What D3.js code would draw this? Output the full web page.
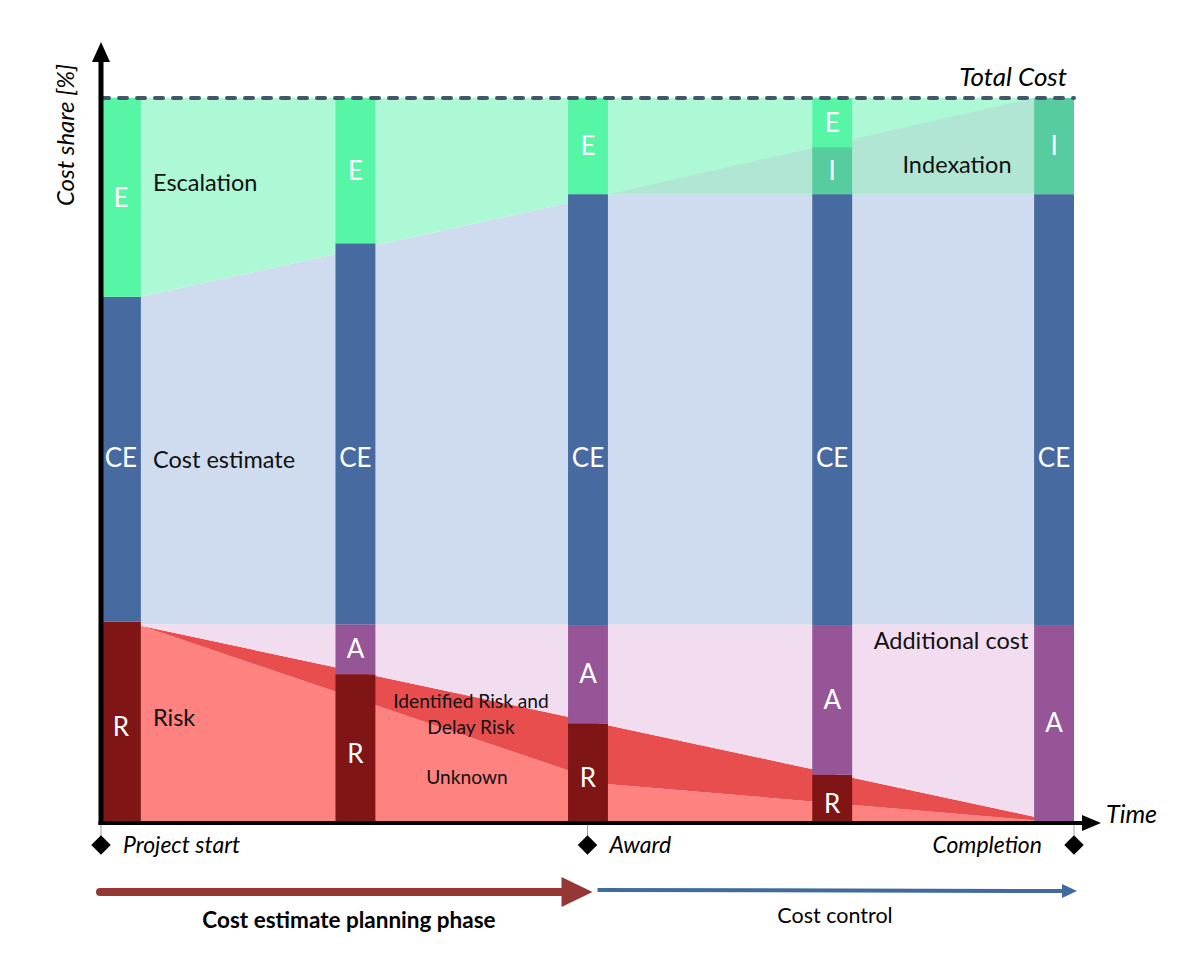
<!DOCTYPE html>
<html>
<head>
<meta charset="utf-8">
<script src="https://cdn.jsdelivr.net/npm/d3@7"></script>
<style>
  body { margin: 0; background: #fff; }
  text { font-family: Lato, "Open Sans", sans-serif; }
</style>
</head>
<body>
<div id="canvas"></div>
<script>
// columns: left edge in % of project time
const columnStart = [0, 24.1, 48, 73.1, 95.9];
const columnWidth = 4.1;

// cost shares per column [%]
const riskShare       = [27.6, 20.3, 13.5, 6.4, 0];
const additionalShare = [0, 6.9, 13.6, 20.7, 27.1];
const estimateShare   = [44.9, 52.7, 59.6, 59.6, 59.6];
const indexationShare = [0, 0, 0, 6.5, 13.3];
const escalationShare = [27.5, 20.1, 13.3, 6.8, 0];

// background trend bands between the columns
const bandTime        = [4.1, 52.2, 95.9];
const unknownTop      = [27.0, 5.1, 0.1];
const identifiedTop   = [27.0, 13.2, 0.6];
const estimateBottom  = [27.2, 27.2, 27.2];
const escalationFloor = [72.5, 86.7, 86.7];
const indexationTop   = [72.5, 86.7, 100];

const milestones    = ["Project start", "Award", "Completion"];
const milestoneTime = [0, 50, 100];

const keys = ["R", "A", "CE", "I", "E"];
const barColor = { R: "#7f1514", A: "#955597", CE: "#476aa0", I: "#56cc9f", E: "#57f6a6" };

const width = 1200, height = 972;

const svg = d3.select("#canvas").append("svg")
  .attr("width", width)
  .attr("height", height);

const x = d3.scaleLinear().domain([0, 100]).range([101, 1074]);
const y = d3.scaleLinear().domain([0, 100]).range([821, 98]);

// ---- background bands
const bandRows = bandTime.map((t, i) => ({
  t,
  unk: unknownTop[i], idr: identifiedTop[i], ceb: estimateBottom[i],
  esc: escalationFloor[i], idx: indexationTop[i]
}));

const bands = [
  { lo: d => 0,     hi: d => d.unk, fill: "#fe8380" },
  { lo: d => d.unk, hi: d => d.idr, fill: "#e94e4f" },
  { lo: d => d.idr, hi: d => d.ceb, fill: "#f1dcf0" },
  { lo: d => d.ceb, hi: d => d.esc, fill: "#cfdbee" },
  { lo: d => d.esc, hi: d => 100,   fill: "#adf8d5" },
  { lo: d => d.esc, hi: d => d.idx, fill: "#b0e6d3" }
];

const gBands = svg.append("g");
bands.forEach(b => {
  const area = d3.area()
    .x(d => x(d.t))
    .y0(d => y(b.lo(d)))
    .y1(d => y(b.hi(d)));
  gBands.append("path")
    .datum(bandRows)
    .attr("d", area)
    .attr("fill", b.fill);
});

// ---- stacked columns
const rows = columnStart.map((t, i) => ({
  t,
  R: riskShare[i], A: additionalShare[i], CE: estimateShare[i],
  I: indexationShare[i], E: escalationShare[i]
}));

const series = d3.stack().keys(keys)(rows);
const gBars = svg.append("g");

series.forEach(s => {
  s.forEach(d => {
    if (d[1] - d[0] <= 0) return;
    const x0 = x(d.data.t), x1 = x(d.data.t + columnWidth);
    gBars.append("rect")
      .attr("x", x0)
      .attr("width", x1 - x0)
      .attr("y", y(d[1]))
      .attr("height", y(d[0]) - y(d[1]))
      .attr("fill", barColor[s.key]);

    let ly = (y(d[0]) + y(d[1])) / 2;
    if (s.key === "CE") ly = y(50.2);
    if (s.key === "R") ly += 6;
    gBars.append("text")
      .attr("x", (x0 + x1) / 2)
      .attr("y", ly)
      .attr("dy", "0.35em")
      .attr("text-anchor", "middle")
      .attr("fill", "#fff")
      .style("font-size", "26px")
      .text(s.key);
  });
});

// ---- total cost dashed line
svg.append("line")
  .attr("x1", x(0)).attr("x2", x(100))
  .attr("y1", y(100)).attr("y2", y(100))
  .attr("stroke", "#465669")
  .attr("stroke-width", 4)
  .attr("stroke-linecap", "round")
  .attr("stroke-dasharray", "8 10");

svg.append("text")
  .attr("x", 1067).attr("y", 86)
  .attr("text-anchor", "end")
  .style("font-size", "26px")
  .style("font-style", "italic")
  .text("Total Cost");

// ---- axes (arrows)
svg.append("line")
  .attr("x1", x(0)).attr("x2", x(0))
  .attr("y1", y(0) + 4).attr("y2", 58)
  .attr("stroke", "#000").attr("stroke-width", 5);
svg.append("path")
  .attr("d", `M${x(0)},42 L${x(0) - 9},62 L${x(0) + 9},62 Z`)
  .attr("fill", "#000");

svg.append("line")
  .attr("x1", x(0) - 2.5).attr("x2", 1086)
  .attr("y1", y(0) + 2).attr("y2", y(0) + 2)
  .attr("stroke", "#000").attr("stroke-width", 4);
svg.append("path")
  .attr("d", `M1101,${y(0) + 2} L1082,${y(0) - 6} L1082,${y(0) + 10} Z`)
  .attr("fill", "#000");

svg.append("text")
  .attr("x", 74).attr("y", 135)
  .attr("transform", "rotate(-90,74,135)")
  .attr("text-anchor", "middle")
  .style("font-size", "24px")
  .style("font-style", "italic")
  .text("Cost share [%]");

svg.append("text")
  .attr("x", 1106).attr("y", 814)
  .attr("dy", "0.35em")
  .style("font-size", "25px")
  .style("font-style", "italic")
  .text("Time");

// ---- milestones
const diamond = d3.symbol().type(d3.symbolSquare).size(190);
milestoneTime.forEach((t, i) => {
  const cx = x(t);
  svg.append("line")
    .attr("x1", cx).attr("x2", cx)
    .attr("y1", y(0) + 4).attr("y2", 838)
    .attr("stroke", "#9aa3ad").attr("stroke-width", 1);
  svg.append("path")
    .attr("d", diamond())
    .attr("transform", `translate(${cx},845) rotate(45)`)
    .attr("fill", "#000");
  const last = i === milestones.length - 1;
  svg.append("text")
    .attr("x", last ? cx - 32 : cx + 22)
    .attr("y", 845)
    .attr("dy", "0.35em")
    .attr("text-anchor", last ? "end" : "start")
    .style("font-size", "23px")
    .style("font-style", "italic")
    .text(milestones[i]);
});

// ---- phase arrows
const redColor = "#953735", blueColor = "#3f6b9e";
svg.append("line")
  .attr("x1", x(0) - 1).attr("x2", x(50) - 22)
  .attr("y1", 892).attr("y2", 892)
  .attr("stroke", redColor).attr("stroke-width", 8)
  .attr("stroke-linecap", "round");
svg.append("path")
  .attr("d", `M${x(50) + 5},892 L${x(50) - 26},877 L${x(50) - 26},907 Z`)
  .attr("fill", redColor);

svg.append("line")
  .attr("x1", x(50) + 10).attr("x2", x(100) - 8)
  .attr("y1", 890).attr("y2", 891)
  .attr("stroke", blueColor).attr("stroke-width", 4);
svg.append("path")
  .attr("d", `M${x(100) + 3},891 L${x(100) - 12},884 L${x(100) - 12},898 Z`)
  .attr("fill", blueColor);

svg.append("text")
  .attr("x", 349).attr("y", 920)
  .attr("dy", "0.35em")
  .attr("text-anchor", "middle")
  .style("font-size", "22.5px")
  .style("font-weight", "bold")
  .text("Cost estimate planning phase");

svg.append("text")
  .attr("x", 835).attr("y", 915)
  .attr("dy", "0.35em")
  .attr("text-anchor", "middle")
  .style("font-size", "21.5px")
  .text("Cost control");

// ---- band annotations
const notes = [
  { text: "Escalation",          x: 153, y: 183, size: 23.5, anchor: "start" },
  { text: "Cost estimate",       x: 153, y: 460, size: 23.5, anchor: "start" },
  { text: "Risk",                x: 153, y: 718, size: 23.5, anchor: "start" },
  { text: "Indexation",          x: 957, y: 165, size: 23.5, anchor: "middle" },
  { text: "Additional cost",     x: 951, y: 641, size: 23.5, anchor: "middle" },
  { text: "Identified Risk and", x: 471, y: 701, size: 19.2, anchor: "middle" },
  { text: "Delay Risk",          x: 471, y: 727, size: 19.2, anchor: "middle" },
  { text: "Unknown",             x: 467, y: 777, size: 19.2, anchor: "middle" }
];
svg.append("g").selectAll("text")
  .data(notes)
  .join("text")
  .attr("x", d => d.x)
  .attr("y", d => d.y)
  .attr("dy", "0.35em")
  .attr("text-anchor", d => d.anchor)
  .style("font-size", d => d.size + "px")
  .attr("fill", "#111")
  .text(d => d.text);
</script>
</body>
</html>
